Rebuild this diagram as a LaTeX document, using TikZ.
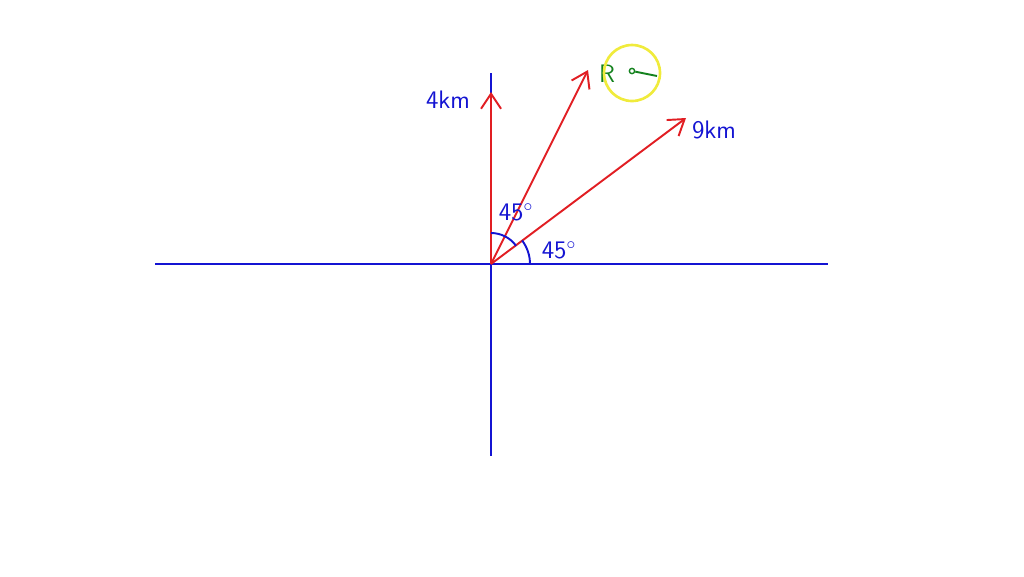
\documentclass[tikz,border=0pt]{standalone}
\usepackage{amsmath}
\usetikzlibrary{arrows.meta,positioning}
\definecolor{axisblue}{RGB}{20,20,210}
\definecolor{vecred}{RGB}{225,30,35}
\definecolor{rgreen}{RGB}{20,130,30}
\definecolor{ryellow}{RGB}{240,235,60}

\begin{document}
\begin{tikzpicture}[x={(0.02cm,0)}, y={(0,-0.02cm)}, line width=1.1pt,
		axis/.style={draw=axisblue},
		vec/.style={draw=vecred, -{Straight Barb[length=3mm,width=4mm]}},
		lbl/.style={text=axisblue, font=\sffamily\Large},
		angarc/.style={draw=axisblue}]
		\useasboundingbox (0,0) rectangle (1024,576);

		\coordinate (O) at (491,264);
		\coordinate (xl) at (155,264);
		\coordinate (xr) at (828,264);
		\coordinate (yt) at (491,73);
		\coordinate (yb) at (491,456);
		\coordinate (A) at (491,92);
		\coordinate (B) at (588,70);
		\coordinate (C) at (686,118);

		\draw[axis] (xl) -- (xr);
		\draw[axis] (yt) -- (yb);

		\draw[vec] (O) -- (A);
		\draw[vec] (O) -- (B);
		\draw[vec] (O) -- (C);

		% angle marks
		\draw[angarc] (O) ++(0,-31) arc[start angle=90, end angle=36, radius=31*0.02cm];
		\draw[angarc] (O) ++(39,0) arc[start angle=0, end angle=37, radius=39*0.02cm];

		\node[lbl] (l4) at (448,100) {4km};
		\node[lbl] (l9) at (714,130) {9km};
		\node[lbl] (a1) at (516,212) {45$^{\circ}$};
		\node[lbl] (a2) at (559,250) {45$^{\circ}$};

		\node[text=rgreen, font=\sffamily\Large] (R) at (607,74) {R};
		\node[draw=ryellow, circle, minimum size=56*0.02cm, inner sep=0pt, line width=1.5pt] (ring) at (632,73) {};
		\node[draw=rgreen, circle, inner sep=0pt, minimum size=3pt, line width=0.8pt] (dot) at (632,71) {};
		\coordinate (tail) at (657,76);
		\draw[rgreen] (dot) -- (tail);
	\end{tikzpicture}
\end{document}
